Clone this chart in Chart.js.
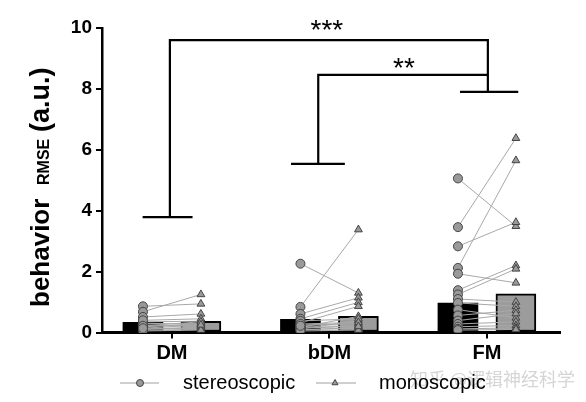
<!DOCTYPE html>
<html><head><meta charset="utf-8">
<script src="https://cdn.jsdelivr.net/npm/chart.js@4"></script>
<style>html,body{margin:0;padding:0;background:#fff}#wrap{width:586px;height:402px}</style>
</head><body><div id="wrap"><canvas id="c" width="586" height="402"></canvas></div>
<script>
const categories = ['DM', 'bDM', 'FM'];
const stereoMean = [0.33, 0.43, 0.97];
const monoMean = [0.37, 0.53, 1.27];
const stereoDM = [0.86, 0.68, 0.51, 0.35, 0.21, 0.12, 0.30, 0.25, 0.18, 0.15, 0.10, 0.08, 0.40, 0.05, 0.22, 0.14];
const monoDM   = [0.94, 1.25, 0.61, 0.37, 0.23, 0.15, 0.28, 0.20, 0.30, 0.12, 0.18, 0.10, 0.45, 0.08, 0.35, 0.25];
const stereoBDM = [2.26, 0.84, 0.61, 0.45, 0.32, 0.17, 0.12, 0.25, 0.08, 0.20, 0.14, 0.38, 0.10, 0.28, 0.05, 0.22];
const monoBDM   = [1.30, 3.38, 1.14, 0.99, 0.86, 0.53, 0.39, 0.28, 0.17, 0.10, 0.22, 0.45, 0.13, 0.33, 0.08, 0.20];
const stereoFM = [5.06, 3.46, 2.83, 2.12, 1.93, 1.39, 1.25, 1.10, 0.97, 0.75, 0.56, 0.39, 0.28, 0.19, 0.12, 0.08];
const monoFM   = [3.49, 6.38, 3.62, 5.65, 1.63, 2.20, 2.09, 1.00, 0.86, 0.48, 0.73, 0.62, 0.35, 0.23, 0.15, 0.10];
const yTicks = [0, 2, 4, 6, 8, 10];
const seriesNames = ['stereoscopic', 'monoscopic'];
// significance brackets in data units (x: category index, y: value)
const brackets = [
  [[-0.186, 3.79], [0.131, 3.79]],
  [[-0.013, 3.79], [-0.013, 9.6], [2.006, 9.6], [2.006, 7.9]],
  [[1.829, 7.9], [2.199, 7.9]],
  [[0.929, 5.54], [0.929, 8.46], [2.006, 8.46]],
  [[0.756, 5.54], [1.098, 5.54]]
];
const stars = [{ text: '***', x: 0.984, y: 9.63 }, { text: '**', x: 1.473, y: 8.39 }];

const OFF = 0.184;
const stereoAll = [stereoDM, stereoBDM, stereoFM];
const monoAll = [monoDM, monoBDM, monoFM];

const pairLine = [];
const stereoPts = [];
const monoPts = [];
stereoAll.forEach((arr, ci) => {
  arr.forEach((v, j) => {
    const m = monoAll[ci][j];
    pairLine.push({ x: ci - OFF, y: v }, { x: ci + OFF, y: m }, { x: ci + OFF, y: null });
    stereoPts.push({ x: ci - OFF, y: v });
    monoPts.push({ x: ci + OFF, y: m });
  });
});
const bracketData = [];
brackets.forEach(b => {
  b.forEach(p => bracketData.push({ x: p[0], y: p[1] }));
  bracketData.push({ x: b[b.length - 1][0], y: null });
});

const FONT = '"Liberation Sans", Arial, sans-serif';

const extras = {
  id: 'extras',
  afterDraw(chart) {
    const ctx = chart.ctx;
    const xs = chart.scales.x, ys = chart.scales.y;
    ctx.save();
    // stars
    ctx.fillStyle = '#000';
    ctx.textAlign = 'center';
    ctx.textBaseline = 'alphabetic';
    ctx.font = '28px ' + FONT;
    stars.forEach(s => ctx.fillText(s.text, xs.getPixelForValue(s.x), ys.getPixelForValue(s.y)));
    // y title
    ctx.save();
    ctx.translate(49, 307);
    ctx.rotate(-Math.PI / 2);
    ctx.textAlign = 'left';
    ctx.font = 'bold 26px ' + FONT;
    ctx.fillText('behavior', 0, 0);
    ctx.font = 'bold 16px ' + FONT;
    ctx.fillText('RMSE', 122, 0);
    ctx.font = 'bold 27px ' + FONT;
    ctx.fillText('(a.u.)', 175, 0);
    ctx.restore();
    // watermark
    ctx.font = '18px "Noto Sans CJK SC", sans-serif';
    ctx.fillStyle = 'rgba(195,195,195,0.7)';
    ctx.textAlign = 'left';
    ctx.textBaseline = 'middle';
    ctx.fillText('知乎 @逻辑神经科学', 410, 379);
    // legend
    const ly = 383;
    const items = [
      { x1: 120, x2: 159, px: 140, style: 'circle', tx: 183, text: seriesNames[0] },
      { x1: 316, x2: 356, px: 335, style: 'triangle', tx: 379, text: seriesNames[1] }
    ];
    items.forEach(it => {
      ctx.strokeStyle = '#a0a0a0';
      ctx.lineWidth = 1;
      ctx.beginPath(); ctx.moveTo(it.x1, ly); ctx.lineTo(it.x2, ly); ctx.stroke();
      ctx.fillStyle = '#999';
      ctx.strokeStyle = '#444';
      Chart.helpers.drawPoint(ctx, { pointStyle: it.style, radius: 3.5, rotation: 0, borderWidth: 1 }, it.px, ly);
      ctx.fillStyle = '#000';
      ctx.font = '20px ' + FONT;
      ctx.textAlign = 'left';
      ctx.textBaseline = 'middle';
      ctx.fillText(it.text, it.tx, ly);
    });
    ctx.restore();
  }
};

new Chart(document.getElementById('c'), {
  type: 'bar',
  data: {
    datasets: [
      { type: 'line', data: bracketData, borderColor: '#000', borderWidth: 2.2, pointRadius: 0, spanGaps: false, borderJoinStyle: 'miter', order: 0 },
      { type: 'line', data: stereoPts, showLine: false, pointStyle: 'circle', pointRadius: 4.5, backgroundColor: '#999', borderColor: '#444', pointBorderWidth: 1, order: 0 },
      { type: 'line', data: monoPts, showLine: false, pointStyle: 'triangle', pointRadius: 4.5, backgroundColor: '#999', borderColor: '#444', pointBorderWidth: 1, order: 0 },
      { type: 'line', data: pairLine, borderColor: '#a8a8a8', borderWidth: 1, pointRadius: 0, spanGaps: false, order: 1 },
      { type: 'bar', label: seriesNames[0], data: categories.map((c, i) => ({ x: i - OFF, y: stereoMean[i] })), backgroundColor: '#000', borderWidth: 0, barThickness: 40, grouped: false, order: 2 },
      { type: 'bar', label: seriesNames[1], data: categories.map((c, i) => ({ x: i + OFF, y: monoMean[i] })), backgroundColor: '#9c9c9c', borderColor: '#000', borderWidth: 2, borderSkipped: false, barThickness: 40, grouped: false, order: 2 }
    ]
  },
  options: {
    responsive: false,
    animation: false,
    devicePixelRatio: 1,
    layout: { padding: { top: 28, right: 26, left: 0, bottom: 0 } },
    plugins: { legend: { display: false }, tooltip: { enabled: false } },
    scales: {
      x: {
        type: 'linear', min: -0.444, max: 2.464, offset: false,
        afterBuildTicks: s => { s.ticks = categories.map((c, i) => ({ value: i })); },
        afterFit: s => { s.height = 69.5; },
        ticks: { callback: v => categories[v] ?? '', color: '#000', font: { family: FONT, size: 20, weight: 'bold' }, padding: 3, maxRotation: 0, autoSkip: false },
        grid: { drawOnChartArea: false, offset: false, tickLength: 6, lineWidth: 2, color: '#000' },
        border: { display: true, width: 3, color: '#000' }
      },
      y: {
        type: 'linear', min: 0, max: 10,
        afterBuildTicks: s => { s.ticks = yTicks.map(v => ({ value: v })); },
        afterFit: s => { s.width = 102; },
        ticks: { color: '#000', font: { family: FONT, size: 19, weight: 'bold' }, padding: 4 },
        grid: { drawOnChartArea: false, tickLength: 6, lineWidth: 2, color: '#000' },
        border: { display: true, width: 2.5, color: '#000' }
      }
    }
  },
  plugins: [extras]
});
</script>
</body></html>
